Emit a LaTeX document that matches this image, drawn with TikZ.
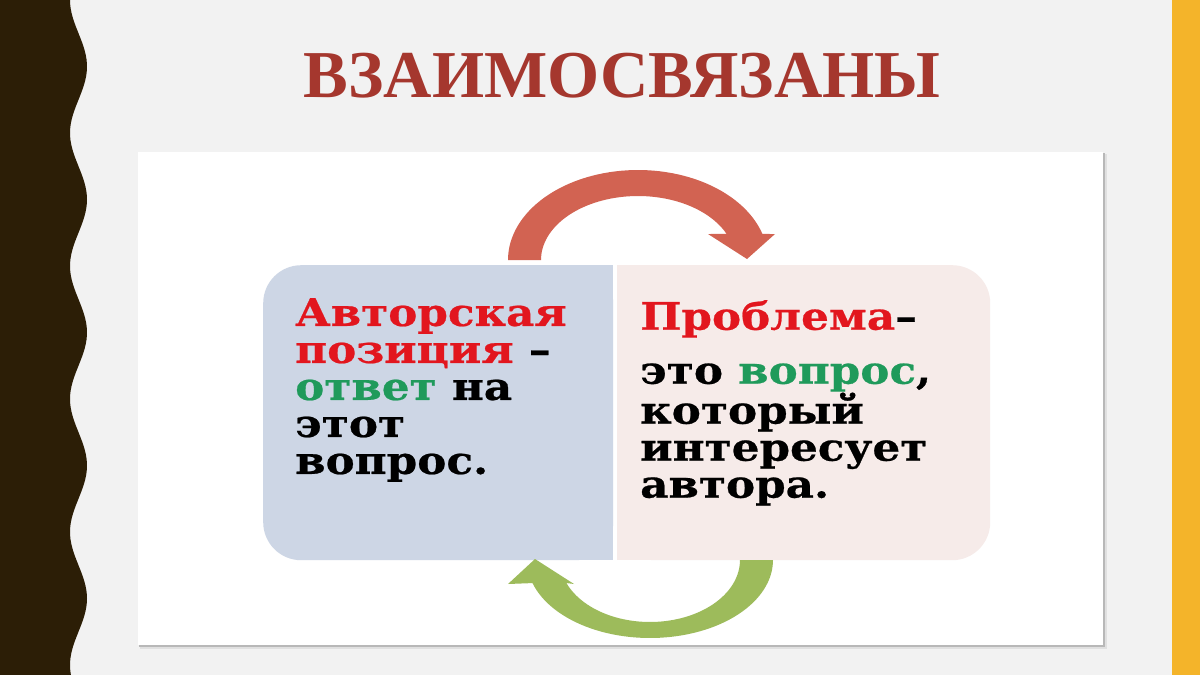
\documentclass[tikz,border=0pt]{standalone}
\usepackage{fontspec}
\setmainfont{Liberation Serif}
\newfontfamily\boxfont{DejaVu Serif}[FakeStretch=1.15,FakeBold=0.6]
\definecolor{band}{HTML}{2C1E06}
\definecolor{gold}{HTML}{F4B42A}
\definecolor{paper}{HTML}{F2F2F2}
\definecolor{boxblue}{HTML}{CDD6E5}
\definecolor{boxpink}{HTML}{F6EBE9}
\definecolor{arrowred}{HTML}{D26352}
\definecolor{arrowgreen}{HTML}{9DBB5B}
\definecolor{wordred}{HTML}{E2161E}
\definecolor{wordgreen}{HTML}{1F9A5B}
\definecolor{titlered}{HTML}{A5372E}
\begin{document}
\begin{tikzpicture}[x=1pt,y=-1pt,line join=round,
  words/.style={anchor=north west,align=left,inner sep=0pt,
    font=\boxfont\bfseries\fontsize{38}{37}\selectfont},
  half/.style={rounded corners=38,minimum height=295,anchor=north west,inner sep=0pt}]
  % slide
  \fill[paper] (0,0) rectangle (1200,675);
  \fill[band] (0,0) -- plot[domain=0:675,samples=160] ({78.5-8.5*cos(2.7068*\x)},\x) -- (0,675) -- cycle;
  \fill[gold] (1172,0) rectangle (1200,675);
  \node[text=titlered,font=\bfseries\fontsize{67}{67}\selectfont] (title) at (622,76) {ВЗАИМОСВЯЗАНЫ};
  % sheet
  \fill[black!12] (140,154) rectangle (1107,649);
  \fill[black!28] (139,153) rectangle (1105,647);
  \fill[white] (138,152) rectangle (1103,645);
  % two halves
  \node[half,fill=boxblue,minimum width=350] (pos) at (263,265) {};
  \fill[boxblue] (pos.north) rectangle (pos.south east);
  \node[half,fill=boxpink,minimum width=373] (prob) at (617,265) {};
  \fill[boxpink] (prob.north west) rectangle (prob.south);
  \node[words] (postext) at ([shift={(32,33)}]pos.north west)
    {\textcolor{wordred}{Авторская}\\\textcolor{wordred}{позиция} –\\\textcolor{wordgreen}{ответ} на\\этот\\вопрос.};
  \node[words] (probtext) at ([shift={(23,35)}]prob.north west)
    {\textcolor{wordred}{Проблема}–\\[17pt]это \textcolor{wordgreen}{вопрос},\\который\\интересует\\автора.};
  % arrows
  \fill[arrowred] plot[domain=180:343.2,samples=60] ({638+130*cos(\x)},{260+90*sin(\x)})
    -- (775,234) -- (747,259) -- (708,234)
    -- plot[domain=336:180,samples=60] ({638+97*cos(\x)},{260+64*sin(\x)}) -- cycle;
  \fill[arrowgreen] plot[domain=0:162.8,samples=60] ({650+123*cos(\x)},{560+78*sin(\x)})
    -- (508,584) -- (535,559) -- (574,584)
    -- plot[domain=158.2:0,samples=60] ({650+90*cos(\x)},{560+62*sin(\x)}) -- cycle;
\end{tikzpicture}
\end{document}
